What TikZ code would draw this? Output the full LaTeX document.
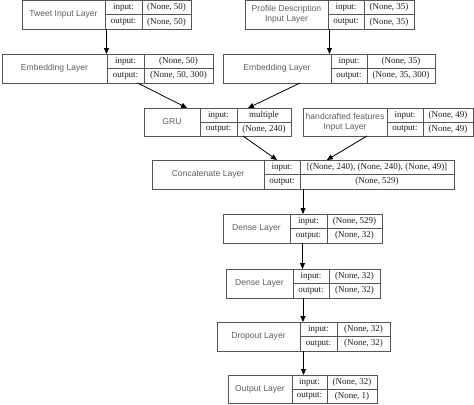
\documentclass[tikz,border=0pt]{standalone}
\usepackage{fontspec}
\setmainfont{Liberation Serif}
\newfontfamily\lsans{Liberation Sans}
\usetikzlibrary{arrows.meta,calc}
\definecolor{boxc}{HTML}{555555}
\definecolor{lblc}{HTML}{5E5E5E}
\definecolor{valc}{HTML}{1E1E1E}
\tikzset{
 boxline/.style={draw=boxc, line width=1bp},
 layerbox/.style={boxline, inner sep=0pt, outer sep=0pt, anchor=north west},
 lbl/.style={font=\lsans\fontsize{8.6}{10}\selectfont, text=lblc, align=center, inner sep=0pt},
 val/.style={font=\fontsize{9}{10}\selectfont, text=valc, inner sep=0pt},
 arr/.style={draw=black, line width=0.8bp, -{Triangle[length=6bp,width=5bp]}},
}
\newcommand\layer[9]{\def\Lname{#1}\def\La{#2}\def\Lb{#3}\def\Lc{#4}\def\Ld{#5}\def\Lt{#6}\def\Lbt{#7}\def\Llab{#8}\def\Lin{#9}\layerfin}
\newcommand\layerfin[1]{%
 \pgfmathsetmacro\Lw{\Ld-\La}\pgfmathsetmacro\Lh{\Lbt-\Lt}\pgfmathsetmacro\Lm{(\Lt+\Lbt)/2}%
 \node[layerbox, minimum width=\Lw bp, minimum height=\Lh bp] (\Lname) at (\La,\Lt) {};
 \draw[boxline] (\Lb,\Lt) -- (\Lb,\Lbt) (\Lc,\Lt) -- (\Lc,\Lbt) (\Lb,\Lm) -- (\Ld,\Lm);
 \node[lbl] (\Lname-lab) at ({(\La+\Lb)/2},\Lm) {\Llab};
 \node[val] (\Lname-ik) at ({(\Lb+\Lc)/2},{(\Lt+\Lm)/2}) {input:};
 \node[val] (\Lname-ok) at ({(\Lb+\Lc)/2},{(\Lm+\Lbt)/2}) {output:};
 \node[val] (\Lname-iv) at ({(\Lc+\Ld)/2},{(\Lt+\Lm)/2}) {\Lin};
 \node[val] (\Lname-ov) at ({(\Lc+\Ld)/2},{(\Lm+\Lbt)/2}) {#1};
}
\begin{document}
\begin{tikzpicture}[x=1bp,y=-1bp]
\useasboundingbox (0,0) rectangle (474,404);
\layer{tweet}{22}{105}{142}{191}{0.5}{29}{Tweet Input Layer}{(None, 50)}{(None, 50)}
\layer{profile}{245}{328}{364}{414}{0.5}{29}{Profile Description\\Input Layer}{(None, 35)}{(None, 35)}
\layer{emb1}{2}{107}{144}{213}{54}{83}{Embedding Layer}{(None, 50)}{(None, 50, 300)}
\layer{emb2}{223}{331}{367}{435}{54}{83}{Embedding Layer}{(None, 35)}{(None, 35, 300)}
\layer{gru}{144}{200}{237}{291}{108}{136}{GRU}{multiple}{(None, 240)}
\layer{hand}{303}{387}{423}{473}{108}{136}{handcrafted features\\Input Layer}{(None, 49)}{(None, 49)}
\layer{concat}{152}{264}{300}{454}{160}{189}{Concatenate Layer}{[(None, 240), (None, 240), (None, 49)]}{(None, 529)}
\layer{dense1}{223}{290}{327}{382}{214}{243}{Dense Layer}{(None, 529)}{(None, 32)}
\layer{dense2}{226}{293}{329}{380}{269}{298}{Dense Layer}{(None, 32)}{(None, 32)}
\layer{dropout}{217}{300}{337}{390}{322}{351}{Dropout Layer}{(None, 32)}{(None, 32)}
\layer{output}{228}{292}{327}{377}{375}{403}{Output Layer}{(None, 32)}{(None, 1)}
\draw[arr] (tweet.south) -- (tweet.south |- emb1.north);
\draw[arr] (profile.south) -- (profile.south |- emb2.north);
\draw[arr] ($(emb1.south west)!0.643!(emb1.south east)$) -- ($(gru.north west)!0.293!(gru.north east)$);
\draw[arr] ($(emb2.south west)!0.363!(emb2.south east)$) -- ($(gru.north west)!0.707!(gru.north east)$);
\draw[arr] ($(gru.south west)!0.673!(gru.south east)$) -- ($(concat.north west)!0.414!(concat.north east)$);
\draw[arr] ($(hand.south west)!0.376!(hand.south east)$) -- ($(concat.north west)!0.579!(concat.north east)$);
\draw[arr] (concat.south) -- (concat.south |- dense1.north);
\draw[arr] (dense1.south) -- (dense1.south |- dense2.north);
\draw[arr] (dense2.south) -- (dense2.south |- dropout.north);
\draw[arr] (dropout.south) -- (dropout.south |- output.north);
\end{tikzpicture}
\end{document}
